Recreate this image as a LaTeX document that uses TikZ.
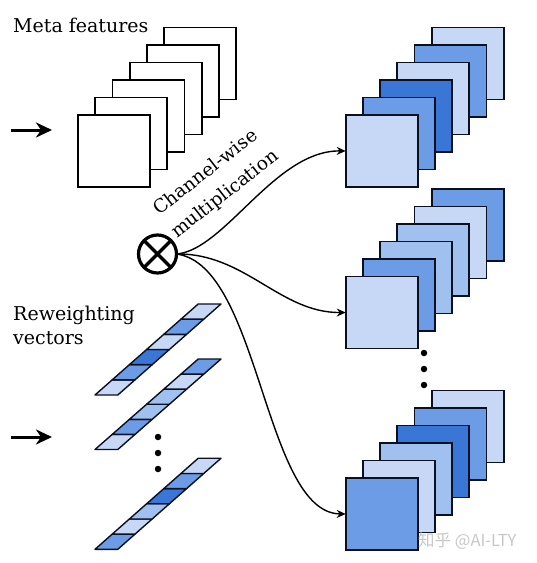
\documentclass[tikz,border=0pt]{standalone}
\usepackage{fontspec}
\setmainfont{DejaVu Serif}
\newfontfamily\cjkfont{Noto Sans CJK SC}
\usetikzlibrary{arrows.meta}
\definecolor{cL}{HTML}{C6D8F5}
\definecolor{cM}{HTML}{6C9CE6}
\definecolor{cD}{HTML}{3A76D6}
\definecolor{cN}{HTML}{A0C0F0}
\definecolor{edge}{HTML}{0B1020}
\tikzset{
  wsq/.style={draw=black, fill=white, line width=1.8pt, minimum size=72pt, inner sep=0pt, outer sep=0pt},
  csq/.style={draw=edge, line width=1.8pt, minimum size=72pt, inner sep=0pt, outer sep=0pt},
  cell/.style={draw=edge, line width=1.4pt, line join=round},
  conn/.style={draw=black, line width=1.4pt, -{Stealth[length=9pt,width=8pt,inset=3pt]}},
  bigarrow/.style={draw=black, line width=3pt, -{Stealth[length=16pt,width=15pt,inset=5pt]}},
  lbl/.style={font=\fontsize{19}{24}\selectfont, inner sep=0pt, anchor=base west},
  rlbl/.style={font=\fontsize{18.5}{24}\selectfont, inner sep=0pt, anchor=base west, rotate=38},
  dot/.style={circle, fill=black, inner sep=0pt, minimum size=6.5pt}
}
\begin{document}
\begin{tikzpicture}[x=1pt,y=-1pt]
\useasboundingbox (0,0) rectangle (537,563);

% labels
\node[lbl] (meta) at (13,32) {Meta features};
\node[lbl] (rw1) at (13,320) {Reweighting};
\node[lbl] (rw2) at (13,344) {vectors};

% input arrows
\coordinate (i1s) at (11,130); \coordinate (i1e) at (52,130);
\coordinate (i2s) at (11,437); \coordinate (i2e) at (52,437);
\draw[bigarrow] (i1s) -- (i1e);
\draw[bigarrow] (i2s) -- (i2e);

% meta feature stack (white)
\foreach \i in {1,...,6} {
  \pgfmathsetmacro\k{6-\i}
  \node[wsq, anchor=south west] (W\i) at ({78+17.2*\k},{187-17.5*\k}) {};
}

% top output stack
\foreach \c [count=\i] in {cL,cM,cL,cD,cM,cL} {
  \pgfmathsetmacro\k{6-\i}
  \node[csq, fill=\c, anchor=south west] (A\i) at ({345.7+17.2*\k},{187-17.5*\k}) {};
}
% middle output stack
\foreach \c [count=\i] in {cM,cL,cN,cN,cM,cL} {
  \pgfmathsetmacro\k{6-\i}
  \node[csq, fill=\c, anchor=south west] (B\i) at ({345.7+17.2*\k},{348.5-17.5*\k}) {};
}
% bottom output stack
\foreach \c [count=\i] in {cL,cM,cD,cN,cL,cM} {
  \pgfmathsetmacro\k{6-\i}
  \node[csq, fill=\c, anchor=south west] (C\i) at ({345.7+17.2*\k},{550-17.5*\k}) {};
}

% right dots
\node[dot] (rd1) at (424,353) {};
\node[dot] (rd2) at (424,369) {};
\node[dot] (rd3) at (424,385) {};

% reweighting vectors
\foreach \c [count=\i from 0] in {cL,cM,cD,cL,cM,cL} {
  \filldraw[cell, fill=\c] ({95+17.2*\i},{395-15.17*\i}) -- ++(22.8,0) -- ++(17.2,-15.17) -- ++(-22.8,0) -- cycle;
}
\foreach \c [count=\i from 0] in {cL,cM,cN,cN,cL,cM} {
  \filldraw[cell, fill=\c] ({95+17.2*\i},{449.5-15.08*\i}) -- ++(22.8,0) -- ++(17.2,-15.08) -- ++(-22.8,0) -- cycle;
}
\foreach \c [count=\i from 0] in {cM,cL,cN,cD,cM,cL} {
  \filldraw[cell, fill=\c] ({95+17.2*\i},{549.3-15.17*\i}) -- ++(22.8,0) -- ++(17.2,-15.17) -- ++(-22.8,0) -- cycle;
}
\node[dot] (ld1) at (158,437) {};
\node[dot] (ld2) at (158,453) {};
\node[dot] (ld3) at (158,469) {};

% channel-wise multiplication
\node[circle, draw=black, line width=3.2pt, minimum size=38pt, inner sep=0pt, outer sep=0pt] (mul) at (157.5,254) {};
\draw[line width=3.2pt] (mul.north east) -- (mul.south west) (mul.north west) -- (mul.south east);
\node[rlbl] (cw1) at (159,216) {Channel-wise};
\node[rlbl] (cw2) at (176.9,238.9) {multiplication};

% connectors
\draw[conn] (mul.east) .. controls (225,250) and (275,150) .. (A6.west);
\draw[conn] (mul.east) .. controls (245,253) and (280,313) .. (B6.west);
\draw[conn] (mul.east) .. controls (260,265) and (264,513) .. (C6.west);

% watermark
\node[font=\cjkfont\fontsize{16.5}{18}\selectfont, text=black!22, inner sep=0pt, anchor=base west] (wm) at (418,546) {知乎 @AI-LTY};
\end{tikzpicture}
\end{document}
